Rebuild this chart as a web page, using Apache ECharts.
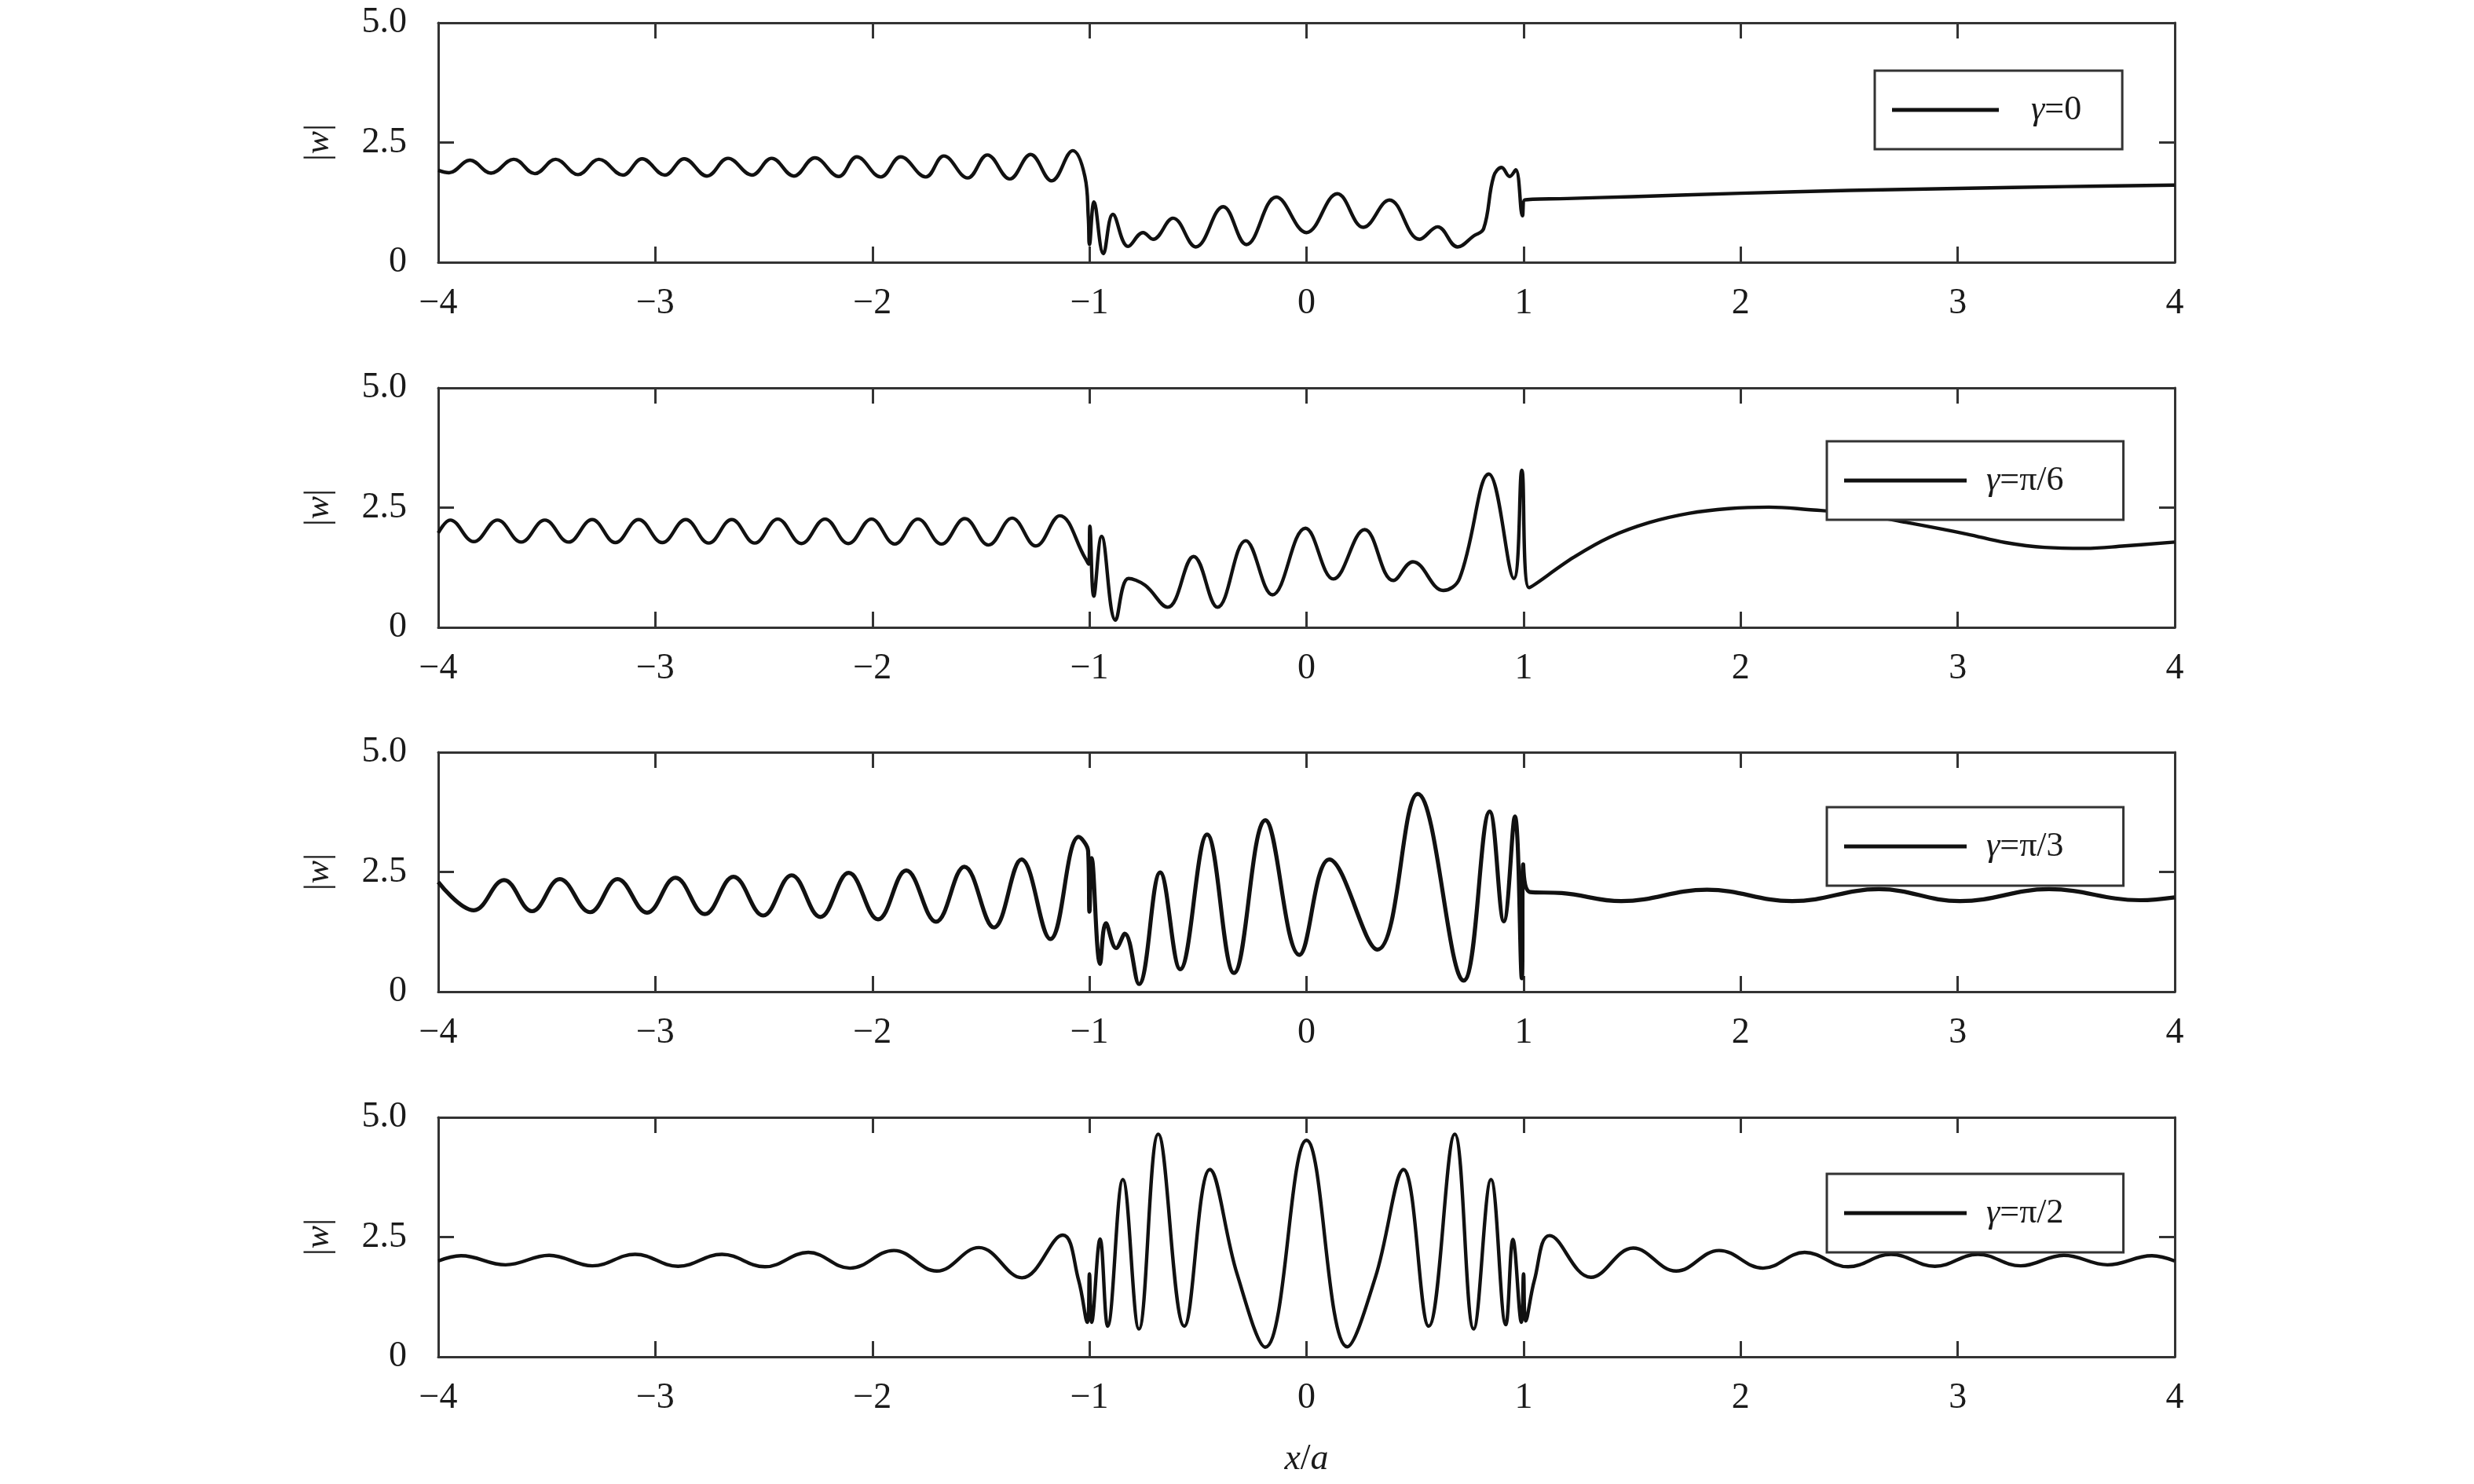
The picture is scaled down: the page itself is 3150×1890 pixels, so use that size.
<!DOCTYPE html>
<html><head><meta charset="utf-8">
<script src="https://cdn.jsdelivr.net/npm/echarts@6/dist/echarts.min.js"></script>
<style>html,body{margin:0;padding:0;background:#fff}#c{width:3150px;height:1890px}</style>
</head><body><div id="c"></div>
<script>
// |w| versus x/a as [x/a, |w|]
const gamma0 = [[-4.0,1.92],[-3.95,1.87],[-3.854,2.13],[-3.757,1.86],[-3.652,2.15],[-3.555,1.85],[-3.459,2.15],[-3.356,1.83],[-3.26,2.15],[-3.149,1.82],[-3.061,2.16],[-2.956,1.82],[-2.867,2.16],[-2.762,1.80],[-2.665,2.17],[-2.555,1.82],[-2.464,2.17],[-2.362,1.80],[-2.265,2.18],[-2.155,1.79],[-2.072,2.20],[-1.961,1.78],[-1.870,2.20],[-1.754,1.78],[-1.671,2.22],[-1.561,1.76],[-1.470,2.24],[-1.367,1.74],[-1.271,2.25],[-1.174,1.70],[-1.077,2.33],[-1.021,1.79],[-1.005,0.92],[-1.0,0.37],[-0.979,1.26],[-0.936,0.18],[-0.892,1.0],[-0.822,0.33],[-0.753,0.62],[-0.707,0.48],[-0.615,0.92],[-0.51,0.32],[-0.384,1.16],[-0.277,0.37],[-0.139,1.36],[0.0,0.62],[0.142,1.43],[0.262,0.73],[0.382,1.3],[0.521,0.48],[0.604,0.74],[0.696,0.32],[0.77,0.55],[0.816,0.7],[0.862,1.79],[0.899,1.98],[0.936,1.79],[0.964,1.93],[0.995,0.97],[1.005,1.3],[1.2,1.33],[1.5,1.37],[2.0,1.44],[2.5,1.5],[3.0,1.54],[3.5,1.58],[4.0,1.61]];
const gammaPi6 = [[-4.0,1.97],[-3.945,2.24],[-3.836,1.79],[-3.727,2.24],[-3.618,1.78],[-3.509,2.24],[-3.40,1.78],[-3.291,2.25],[-3.184,1.77],[-3.077,2.25],[-2.968,1.77],[-2.86,2.25],[-2.754,1.76],[-2.648,2.25],[-2.542,1.76],[-2.436,2.26],[-2.327,1.75],[-2.218,2.26],[-2.111,1.75],[-2.004,2.26],[-1.897,1.74],[-1.79,2.26],[-1.682,1.74],[-1.574,2.27],[-1.465,1.72],[-1.356,2.28],[-1.247,1.70],[-1.137,2.33],[-1.02,1.45],[-1.004,1.32],[-0.998,2.11],[-0.98,0.65],[-0.944,1.9],[-0.88,0.15],[-0.82,1.02],[-0.744,0.88],[-0.64,0.42],[-0.52,1.48],[-0.41,0.42],[-0.28,1.81],[-0.157,0.68],[-0.005,2.07],[0.124,1.01],[0.268,2.04],[0.4,0.98],[0.49,1.37],[0.63,0.77],[0.705,1.02],[0.84,3.2],[0.955,1.02],[0.992,3.28],[1.025,0.83],[1.23,1.46],[1.40,1.89],[1.58,2.19],[1.76,2.38],[1.945,2.48],[2.13,2.51],[2.31,2.46],[2.55,2.36],[2.765,2.19],[3.04,1.95],[3.22,1.77],[3.40,1.67],[3.585,1.65],[3.77,1.70],[4.0,1.78]];
const gammaPi3 = [[-4.0,2.29],[-3.836,1.70],[-3.697,2.33],[-3.568,1.68],[-3.44,2.35],[-3.301,1.66],[-3.174,2.35],[-3.038,1.65],[-2.907,2.38],[-2.772,1.62],[-2.64,2.40],[-2.503,1.59],[-2.372,2.43],[-2.24,1.56],[-2.109,2.48],[-1.974,1.51],[-1.844,2.53],[-1.707,1.46],[-1.576,2.61],[-1.44,1.34],[-1.313,2.76],[-1.18,1.10],[-1.05,3.23],[-1.006,2.93],[-1.0,1.67],[-0.99,2.79],[-0.951,0.58],[-0.924,1.43],[-0.877,0.91],[-0.837,1.21],[-0.772,0.16],[-0.674,2.49],[-0.582,0.47],[-0.458,3.28],[-0.334,0.39],[-0.19,3.58],[-0.033,0.77],[0.105,2.76],[0.327,0.88],[0.512,4.13],[0.724,0.23],[0.844,3.76],[0.909,1.47],[0.96,3.66],[0.992,0.28],[0.998,2.66],[1.03,2.08],[1.176,2.06],[1.45,1.89],[1.845,2.13],[2.237,1.89],[2.637,2.14],[3.01,1.89],[3.42,2.14],[3.84,1.91],[4.0,1.97]];
const gammaPi2 = [[-4.0,2.0],[-3.895,2.11],[-3.69,1.92],[-3.489,2.12],[-3.29,1.90],[-3.093,2.14],[-2.895,1.89],[-2.693,2.14],[-2.495,1.88],[-2.295,2.18],[-2.103,1.85],[-1.901,2.22],[-1.703,1.79],[-1.509,2.28],[-1.311,1.65],[-1.123,2.54],[-1.05,1.6],[-1.01,0.72],[-1.0,1.73],[-0.99,0.72],[-0.951,2.46],[-0.916,0.64],[-0.846,3.70],[-0.772,0.58],[-0.683,4.65],[-0.563,0.64],[-0.445,3.91],[-0.32,1.73],[-0.19,0.2],[0.0,4.52],[0.188,0.21],[0.318,1.67],[0.447,3.91],[0.563,0.64],[0.683,4.65],[0.77,0.58],[0.85,3.70],[0.918,0.67],[0.951,2.45],[0.99,0.72],[1.0,1.73],[1.01,0.75],[1.05,1.6],[1.12,2.53],[1.31,1.66],[1.505,2.27],[1.703,1.79],[1.901,2.22],[2.103,1.85],[2.295,2.18],[2.495,1.88],[2.693,2.14],[2.895,1.89],[3.093,2.14],[3.29,1.90],[3.489,2.12],[3.69,1.92],[3.895,2.11],[4.0,2.0]];

const seriesNames = ['γ=0', 'γ=π/6', 'γ=π/3', 'γ=π/2'];
const seriesData = [gamma0, gammaPi6, gammaPi3, gammaPi2];
const xRange = [-4, 4];
const yRange = [0, 5];
const yStep = 2.5;

const FONT = "'Liberation Serif','Times New Roman',serif";
const AX = '#333333';
const INK = '#111111';
const tops = [29, 494, 958, 1423];
const gridLeft = 558, gridWidth = 2211, gridHeight = 305;
const legendPos = [
  {left: 2387, top: 90, itemWidth: 136, gap: 36, rightPad: 52},
  {left: 2326, top: 562, itemWidth: 156, gap: 20, rightPad: 76},
  {left: 2326, top: 1028, itemWidth: 156, gap: 20, rightPad: 76},
  {left: 2326, top: 1495, itemWidth: 156, gap: 20, rightPad: 76}
];
const lineWidths = [4.4, 4.4, 5.2, 4.4];

const fmtX = v => v < 0 ? '\u2212' + Math.abs(v) : String(v);
const fmtY = v => v === 0 ? '0' : v.toFixed(1);

const grids = [], xAxes = [], yAxes = [], series = [], legends = [];
const lineStyle = {color: AX, width: 3};
const tick = {show: true, inside: true, length: 20, lineStyle: {color: AX, width: 3}};

for (let i = 0; i < 4; i++) {
  grids.push({left: gridLeft, top: tops[i], width: gridWidth, height: gridHeight, containLabel: false});
  const bottomX = {
    type: 'value', gridIndex: i, position: 'bottom', min: xRange[0], max: xRange[1], interval: 1,
    axisLine: {show: true, onZero: false, lineStyle},
    axisTick: tick, splitLine: {show: false},
    axisLabel: {show: true, margin: 30, formatter: fmtX, fontFamily: FONT, fontSize: 46, color: '#1a1a1a'}
  };
  if (i === 3) {
    bottomX.name = '{i|x}{n|/}{i|a}';
    bottomX.nameLocation = 'middle';
    bottomX.nameGap = 108;
    bottomX.nameTextStyle = {fontFamily: FONT, fontSize: 46, color: '#1a1a1a',
      rich: {i: {fontFamily: FONT, fontSize: 46, fontStyle: 'italic', color: '#1a1a1a'}, n: {fontFamily: FONT, fontSize: 46, color: '#1a1a1a'}}};
  }
  xAxes.push(bottomX);
  xAxes.push({
    type: 'value', gridIndex: i, position: 'top', min: xRange[0], max: xRange[1], interval: 1,
    axisLine: {show: true, onZero: false, lineStyle},
    axisTick: tick, splitLine: {show: false}, axisLabel: {show: false}
  });
  yAxes.push({
    type: 'value', gridIndex: i, position: 'left', min: yRange[0], max: yRange[1], interval: yStep,
    axisLine: {show: true, onZero: false, lineStyle},
    axisTick: tick, splitLine: {show: false},
    axisLabel: {show: true, margin: 40, formatter: fmtY, fontFamily: FONT, fontSize: 46, color: '#1a1a1a'},
    name: '{n||}{i|w}{n||}', nameLocation: 'middle', nameGap: 130, nameRotate: 90,
    nameTextStyle: {fontFamily: FONT, fontSize: 44, color: '#1a1a1a',
      rich: {i: {fontFamily: FONT, fontSize: 44, fontStyle: 'italic', color: '#1a1a1a'}, n: {fontFamily: FONT, fontSize: 44, color: '#1a1a1a'}}}
  });
  yAxes.push({
    type: 'value', gridIndex: i, position: 'right', min: yRange[0], max: yRange[1], interval: yStep,
    axisLine: {show: true, onZero: false, lineStyle},
    axisTick: tick, splitLine: {show: false}, axisLabel: {show: false}
  });
  series.push({
    name: seriesNames[i], type: 'line', xAxisIndex: 2 * i, yAxisIndex: 2 * i,
    data: seriesData[i], showSymbol: false, symbol: 'none', smooth: 0.4,
    lineStyle: {color: INK, width: lineWidths[i], join: 'round'}, itemStyle: {color: INK},
    animation: false, z: 2
  });
  const L = legendPos[i];
  legends.push({
    show: true, selectedMode: false, data: [seriesNames[i]], left: L.left, top: L.top,
    orient: 'horizontal', padding: [26, L.rightPad, 26, 22], itemWidth: L.itemWidth, itemHeight: 5,
    icon: 'rect', backgroundColor: '#ffffff', borderColor: AX, borderWidth: 3, borderRadius: 0,
    itemStyle: {color: INK},
    formatter: name => '{i|' + name.charAt(0) + '}{n|' + name.slice(1) + '}',
    textStyle: {fontFamily: FONT, fontSize: 44, color: '#1a1a1a', lineHeight: 48,
      rich: {i: {fontFamily: FONT, fontSize: 44, fontStyle: 'italic', color: '#1a1a1a', padding: [0, 0, 0, L.gap]},
             n: {fontFamily: FONT, fontSize: 44, color: '#1a1a1a'}}},
    z: 10
  });
}

const chart = echarts.init(document.getElementById('c'), null, {renderer: 'canvas'});
chart.setOption({
  backgroundColor: '#ffffff', animation: false,
  grid: grids, xAxis: xAxes, yAxis: yAxes, series: series, legend: legends
});
</script></body></html>
